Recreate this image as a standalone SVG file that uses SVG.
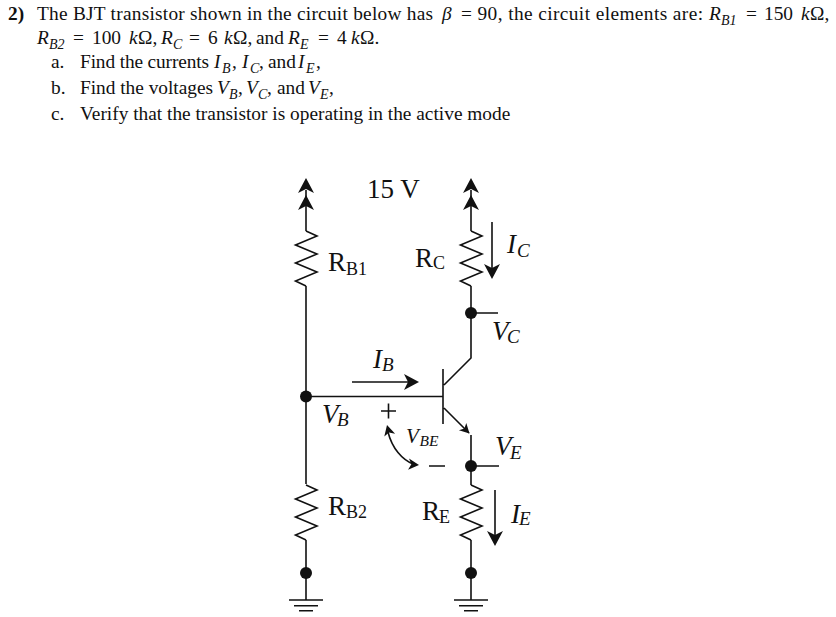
<svg xmlns="http://www.w3.org/2000/svg" width="836" height="617" viewBox="0 0 836 617">
<style>
text{font-family:"Liberation Serif","Times New Roman",serif;fill:#111}
.t{font-size:19.35px}
.i{font-style:italic}
.s{font-size:14px;font-style:italic}
.l{font-size:27px}
.ls{font-size:18px}
.lsi{font-size:19px;font-style:italic}
.w{fill:none;stroke:#111;stroke-width:1.6}
.d{fill:#111;stroke:none}
</style>
<defs>
<path id="res" class="w" d="M0 0L11 5L-10.500 14L11 23L-10.500 32L11 41L-10.500 50L0 55"/>
<path id="gnd" class="w" d="M-17 0H17M-12 5.700H12M-7 10.700H7"/>
<path id="head" class="d" d="M0 0L-8 15L0 11L8 15Z"/>
</defs>
<g id="problem">
<text class="t" x="8" y="20" font-weight="bold">2)</text>
<text class="t" x="37" y="20" textLength="396" lengthAdjust="spacing">The BJT transistor shown in the circuit below has</text>
<text class="t i" x="442" y="20">β</text>
<text class="t" x="461" y="20" textLength="242" lengthAdjust="spacing">= 90, the circuit elements are:</text>
<text class="t" x="709" y="20"><tspan class="i">R</tspan><tspan class="s" x="721" dy="5">B1</tspan></text>
<text class="t" x="746" y="20">=<tspan x="764">150</tspan></text>
<text class="t" x="801" y="20"><tspan class="i">k</tspan><tspan x="810">Ω,</tspan></text>
<text class="t" x="37" y="44"><tspan class="i">R</tspan><tspan class="s" x="49" dy="5">B2</tspan></text>
<text class="t" x="73" y="44">=<tspan x="92">100</tspan></text>
<text class="t" x="129" y="44"><tspan class="i">k</tspan><tspan x="138">Ω,</tspan></text>
<text class="t" x="161" y="44"><tspan class="i">R</tspan><tspan class="s" x="173" dy="5">C</tspan></text>
<text class="t" x="189" y="44">=<tspan x="208">6</tspan></text>
<text class="t" x="224" y="44"><tspan class="i">k</tspan><tspan x="233">Ω,</tspan><tspan x="256">and</tspan></text>
<text class="t" x="288" y="44"><tspan class="i">R</tspan><tspan class="s" x="300" dy="5">E</tspan></text>
<text class="t" x="318" y="44">=<tspan x="337">4</tspan></text>
<text class="t" x="351" y="44"><tspan class="i">k</tspan><tspan x="360">Ω.</tspan></text>
<text class="t" x="51" y="68">a.</text>
<text class="t" x="80" y="68" textLength="129" lengthAdjust="spacing">Find the currents</text>
<text class="t" x="214" y="68"><tspan class="i">I</tspan><tspan class="s" x="222" dy="5">B</tspan><tspan x="232" dy="-5">,</tspan></text>
<text class="t" x="242" y="68"><tspan class="i">I</tspan><tspan class="s" x="250" dy="5">C</tspan><tspan x="259" dy="-5">,</tspan><tspan x="268">and</tspan></text>
<text class="t" x="298" y="68"><tspan class="i">I</tspan><tspan class="s" x="306" dy="5">E</tspan><tspan x="316" dy="-5">,</tspan></text>
<text class="t" x="51" y="94">b.</text>
<text class="t" x="80" y="94" textLength="133" lengthAdjust="spacing">Find the voltages</text>
<text class="t" x="217" y="94"><tspan class="i">V</tspan><tspan class="s" x="229" dy="5">B</tspan><tspan x="238" dy="-5">,</tspan></text>
<text class="t" x="246" y="94"><tspan class="i">V</tspan><tspan class="s" x="258" dy="5">C</tspan><tspan x="267" dy="-5">,</tspan><tspan x="277">and</tspan></text>
<text class="t" x="308" y="94"><tspan class="i">V</tspan><tspan class="s" x="320" dy="5">E</tspan><tspan x="329" dy="-5">,</tspan></text>
<text class="t" x="51" y="120">c.</text>
<text class="t" x="80" y="120">Verify that the transistor is operating in the active mode</text>
</g>
<g id="connectors">
<path class="w" d="M306 190V231M306 286V484M306 540V600"/>
<path class="w" d="M471 190V231M471 286V358L444 385M306 396.500H443M443 369V424M444 408L469 433M471 435V485M471 540V600"/>
<path class="w" d="M471 313H498M471 466H499"/>
<path class="w" d="M492 222V272M495 490V540M352 382H412"/>
<path class="w" d="M388 432C392 448 402 460 414 464.500"/>
<path class="w" d="M429 466H445M381 411H396M388.500 403.500V418.500"/>
<use href="#head" x="306" y="178"/><use href="#head" x="306" y="195"/>
<use href="#head" x="471" y="178"/><use href="#head" x="471" y="195"/>
<use href="#head" transform="translate(492 279) rotate(180)"/>
<use href="#head" transform="translate(495 546) rotate(180)"/>
<use href="#head" transform="translate(419 382) rotate(90)"/>
<use href="#head" transform="translate(469.500 433.500) rotate(135) scale(.65)"/>
<use href="#head" transform="translate(387 425) rotate(-15) scale(.7)"/>
<use href="#head" transform="translate(419 465) rotate(95) scale(.7)"/>
</g>
<g id="RB1"><use href="#res" x="306" y="231"/><text class="l" x="328" y="271">R<tspan class="ls" x="346" dy="4">B1</tspan></text></g>
<g id="RC"><use href="#res" x="471" y="231"/><text class="l" x="415" y="267">R<tspan class="ls" x="433" dy="2">C</tspan></text></g>
<g id="RB2"><use href="#res" x="306" y="485"/><text class="l" x="328" y="515">R<tspan class="ls" x="346" dy="3">B2</tspan></text></g>
<g id="RE"><use href="#res" x="471" y="485"/><text class="l" x="422" y="520">R<tspan class="ls" x="439" dy="3">E</tspan></text></g>
<g id="supply"><text class="l" x="367" y="198">15 V</text></g>
<g id="nodeVB"><circle class="d" cx="306" cy="396.500" r="6"/><text class="l i" x="322" y="423">V<tspan class="lsi" x="337" dy="3">B</tspan></text></g>
<g id="nodeVC"><circle class="d" cx="471" cy="313" r="6"/><text class="l i" x="492" y="340">V<tspan class="lsi" x="507" dy="3">C</tspan></text></g>
<g id="nodeVE"><circle class="d" cx="471" cy="466" r="6"/><text class="l i" x="495" y="455">V<tspan class="lsi" x="510" dy="4">E</tspan></text></g>
<g id="groundL"><circle class="d" cx="306" cy="573" r="6"/><use href="#gnd" x="306" y="600"/></g>
<g id="groundR"><circle class="d" cx="471" cy="573" r="6"/><use href="#gnd" x="471" y="600"/></g>
<g id="labels">
<text class="l i" x="507" y="253">I<tspan class="lsi" x="517" dy="4">C</tspan></text>
<text class="l i" x="373" y="368">I<tspan class="lsi" x="382" dy="3">B</tspan></text>
<text class="l i" x="511" y="523">I<tspan class="lsi" x="519" dy="2">E</tspan></text>
<text class="i" style="font-size:21px" x="406" y="443">V<tspan style="font-size:15.500px" x="419.500" dy="3">BE</tspan></text>
</g>
</svg>
